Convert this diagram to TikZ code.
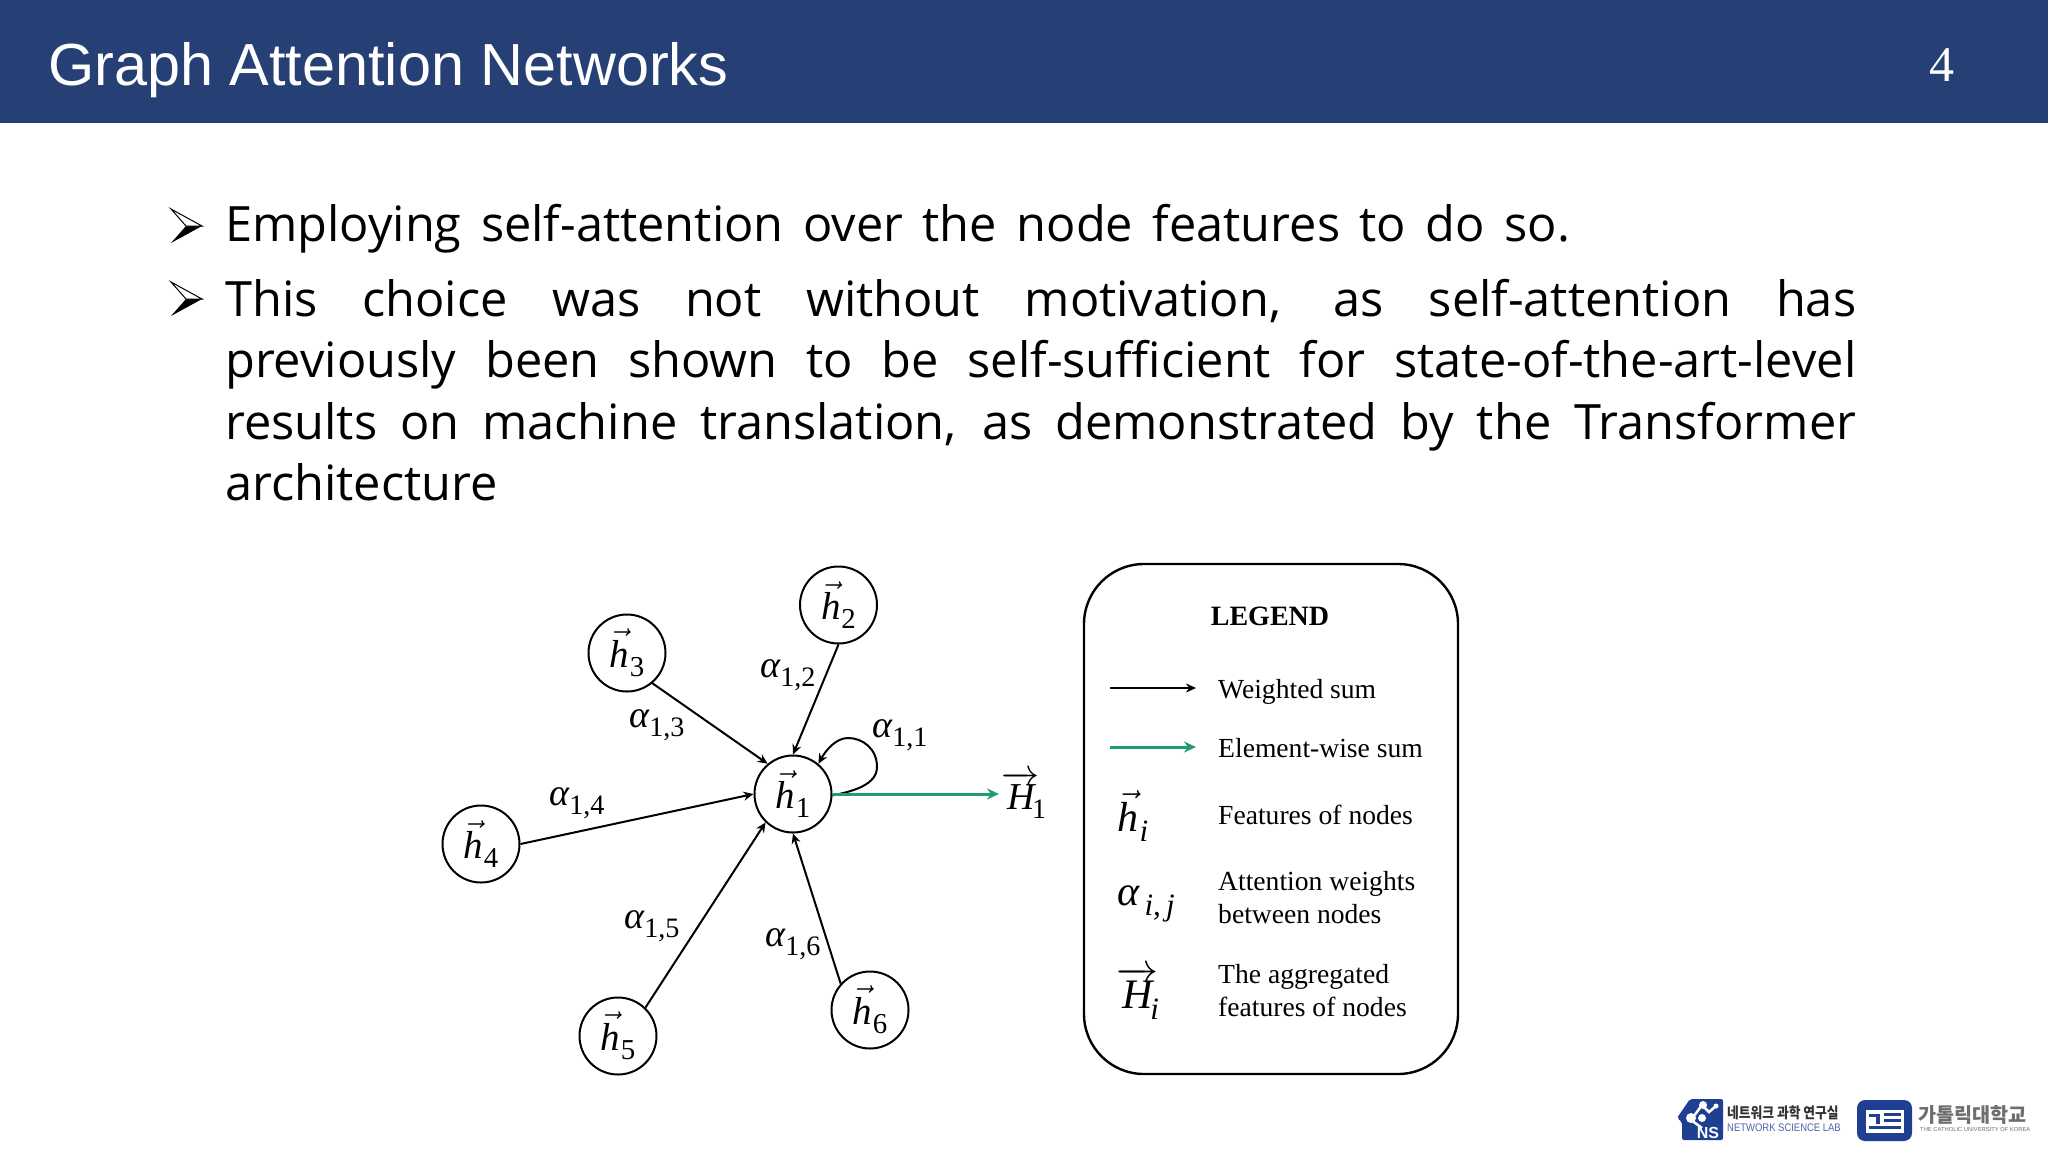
\RequirePackage{fix-cm}
\documentclass[tikz,border=0pt]{standalone}
\usepackage{graphicx}
\usepackage{fontspec}
\setmainfont{Liberation Serif}
\newfontfamily\titlefont{Liberation Sans}
\newfontfamily\bodyfont{Open Sans}
\newfontfamily\krfont{Noto Sans CJK KR}
\usetikzlibrary{arrows.meta}
\definecolor{barblue}{HTML}{264076}
\definecolor{sumgreen}{HTML}{1F9E6F}
\definecolor{logoblue}{HTML}{1F3F93}
\definecolor{logogrey}{HTML}{6E6E6E}
\newcommand{\fs}[1]{\fontsize{#1}{#1}\selectfont}
\newcommand{\subbox}[1]{\raisebox{-.24em}{\scalebox{.74}{#1}}}
\newcommand{\hv}[1]{$\vec{\mbox{\itshape h}}$\kern.02em\subbox{#1}}
\newcommand{\Hv}[1]{$\overrightarrow{\mbox{\itshape H}}$\kern-.2em\subbox{#1}}
\newcommand{\alab}[1]{{\itshape α}\subbox{#1}}
\tikzset{
  x=1pt,y=-1pt,
  graphnode/.style={circle,draw=black,line width=2pt,minimum size=77pt,inner sep=0pt,font=\fs{39}},
  edge/.style={draw=black,line width=2pt,-{Stealth[length=10pt,width=9pt]}},
  greenedge/.style={draw=sumgreen,line width=3pt,-{Stealth[length=12pt,width=11pt]}},
  weight/.style={inner sep=0pt,font=\fs{38}},
  legtext/.style={anchor=base west,inner sep=0pt,font=\fs{27.6}},
  legsym/.style={inner sep=0pt,font=\fs{42}},
  bodyline/.style={anchor=base west,inner sep=0pt,font=\bodyfont\fs{48.7}}
}
\newcommand{\bulletat}[2]{%
  \fill[black] (#1,#2+17) -- (#1+31,#2) -- (#1+15,#2) -- cycle;
  \filldraw[draw=black,fill=white,line width=1pt] (#1,#2-17) -- (#1+31,#2) -- (#1+15,#2) -- cycle;
}
\begin{document}
\begin{tikzpicture}
\useasboundingbox (0,0) rectangle (2048,1152);
\fill[white] (0,0) rectangle (2048,1152);
\fill[barblue] (0,0) rectangle (2048,122.5);
\node[anchor=base west,inner sep=0pt,text=white,font=\titlefont\fs{59.4}] (title) at (48,85) {Graph Attention Networks};
\node[inner sep=0pt,text=white,font=\fs{50}] (pagenum) at (1942,65) {4};

\bulletat{171}{226}
\bulletat{171}{299}
\node[bodyline] (l1) at (225,241) {\makebox[1345pt][s]{Employing self-attention over the node features to do so.}};
\node[bodyline] (l2) at (225,316) {\makebox[1631pt][s]{This choice was not without motivation, as self-attention has}};
\node[bodyline] (l3) at (225,377.5) {\makebox[1631pt][s]{previously been shown to be self-sufficient for state-of-the-art-level}};
\node[bodyline] (l4) at (225,439) {\makebox[1631pt][s]{results on machine translation, as demonstrated by the Transformer}};
\node[bodyline] (l5) at (225,500) {architecture};

\node[graphnode] (h1) at (793,794) {\hv{1}};
\node[graphnode] (h2) at (838.5,605) {\hv{2}};
\node[graphnode] (h3) at (627,653) {\hv{3}};
\node[graphnode] (h4) at (481,844) {\hv{4}};
\node[graphnode] (h5) at (618,1036) {\hv{5}};
\node[graphnode] (h6) at (870,1010) {\hv{6}};
\node[inner sep=0pt,font=\fs{38}] (H1) at (1024,795) {\Hv{1}};
\coordinate (greenstart) at (h1.east);
\coordinate (greenend) at (999,794);

\draw[edge] (h2.-90) -- (h1.90);
\draw[edge] (h3.-50) -- (h1.130);
\draw[edge] (h4.0) -- (h1.180);
\draw[edge] (h5.46) -- (h1.-134);
\draw[edge] (h6.138) -- (h1.-90);
\draw[edge,shift={(h1)}] (h1.-2) .. controls (62,-3) and (84,-10) .. (84,-27) .. controls (84,-45) and (70,-56) .. (55,-56) .. controls (43,-56) and (33,-44) .. (h1.50);
\draw[greenedge] (greenstart) -- (greenend);

\node[weight] (a11) at (900,735) {\alab{1,1}};
\node[weight] (a12) at (788,675) {\alab{1,2}};
\node[weight] (a13) at (657,725) {\alab{1,3}};
\node[weight] (a14) at (577,803) {\alab{1,4}};
\node[weight] (a15) at (652,926) {\alab{1,5}};
\node[weight] (a16) at (793,944) {\alab{1,6}};

\node[draw=black,line width=2.4pt,rounded corners=60pt,minimum width=374pt,minimum height=510pt,inner sep=0pt] (legend) at (1271,819) {};
\node[inner sep=0pt,font=\bfseries\fs{28}] (legtitle) at (1270,616) {LEGEND};
\coordinate (ba) at (1110,688);\coordinate (bb) at (1196,688);
\coordinate (ga) at (1110,747);\coordinate (gb) at (1196,747);
\draw[edge] (ba) -- (bb);
\draw[greenedge] (ga) -- (gb);
\node[legtext] (t1) at (1218,698) {Weighted sum};
\node[legtext] (t2) at (1218,757) {Element-wise sum};
\node[legtext] (t3) at (1218,824) {Features of nodes};
\node[legtext] (t4) at (1218,890) {Attention weights};
\node[legtext] (t5) at (1218,923) {between nodes};
\node[legtext] (t6) at (1218,983) {The aggregated};
\node[legtext] (t7) at (1218,1016) {features of nodes};
\node[legsym] (s1) at (1133,816) {\hv{\itshape i}};
\node[legsym] (s2) at (1146,904) {\alab{\itshape\,i,\,j}};
\node[legsym] (s3) at (1138,993) {\Hv{\itshape i}};

% logos
\fill[logoblue,rounded corners=2pt] (1677,1118) -- (1690,1099) -- (1723,1099) -- (1723,1140) -- (1682,1140) -- (1682,1122) -- cycle;
\draw[white,line width=2.5pt] (1691,1120) -- (1702,1105) -- (1709,1112) -- (1716,1106);
\draw[white,line width=2.5pt] (1691,1120) -- (1702,1128);
\foreach \p/\r in {1691/5,1702/4}{\fill[white] (\p,1118) circle (\r);}
\fill[white] (1703,1105) circle (4);
\fill[white] (1716,1106) circle (2.5);
\node[inner sep=0pt,text=white,font=\titlefont\bfseries\fs{16}] (ns) at (1708,1133) {NS};
\node[anchor=west,inner sep=0pt,text=black!80,font=\krfont\bfseries\fs{15}] (lab) at (1727,1113) {\scalebox{.85}[1]{네트워크 과학 연구실}};
\node[anchor=west,inner sep=0pt,text=logoblue!80,font=\titlefont\fs{11}] (labe) at (1727,1128) {\scalebox{.86}[1]{NETWORK SCIENCE LAB}};
\fill[logoblue,rounded corners=8pt] (1857,1100) rectangle (1912,1141);
\fill[white] (1866,1110) rectangle (1904,1133);
\fill[logoblue] (1869,1114) rectangle (1880,1117);
\fill[logoblue] (1876,1114) rectangle (1880,1124);
\fill[logoblue] (1884,1113) rectangle (1901,1116);
\fill[logoblue] (1884,1119) rectangle (1901,1122);
\fill[logoblue] (1869,1126) rectangle (1901,1129);
\node[anchor=west,inner sep=0pt,text=logogrey,font=\krfont\bfseries\fs{20}] (cu) at (1918,1115) {\scalebox{.98}[1]{가톨릭대학교}};
\node[anchor=west,inner sep=0pt,text=logogrey,font=\titlefont\fs{5.8}] (cue) at (1920,1129) {THE CATHOLIC UNIVERSITY OF KOREA};
\end{tikzpicture}
\end{document}
